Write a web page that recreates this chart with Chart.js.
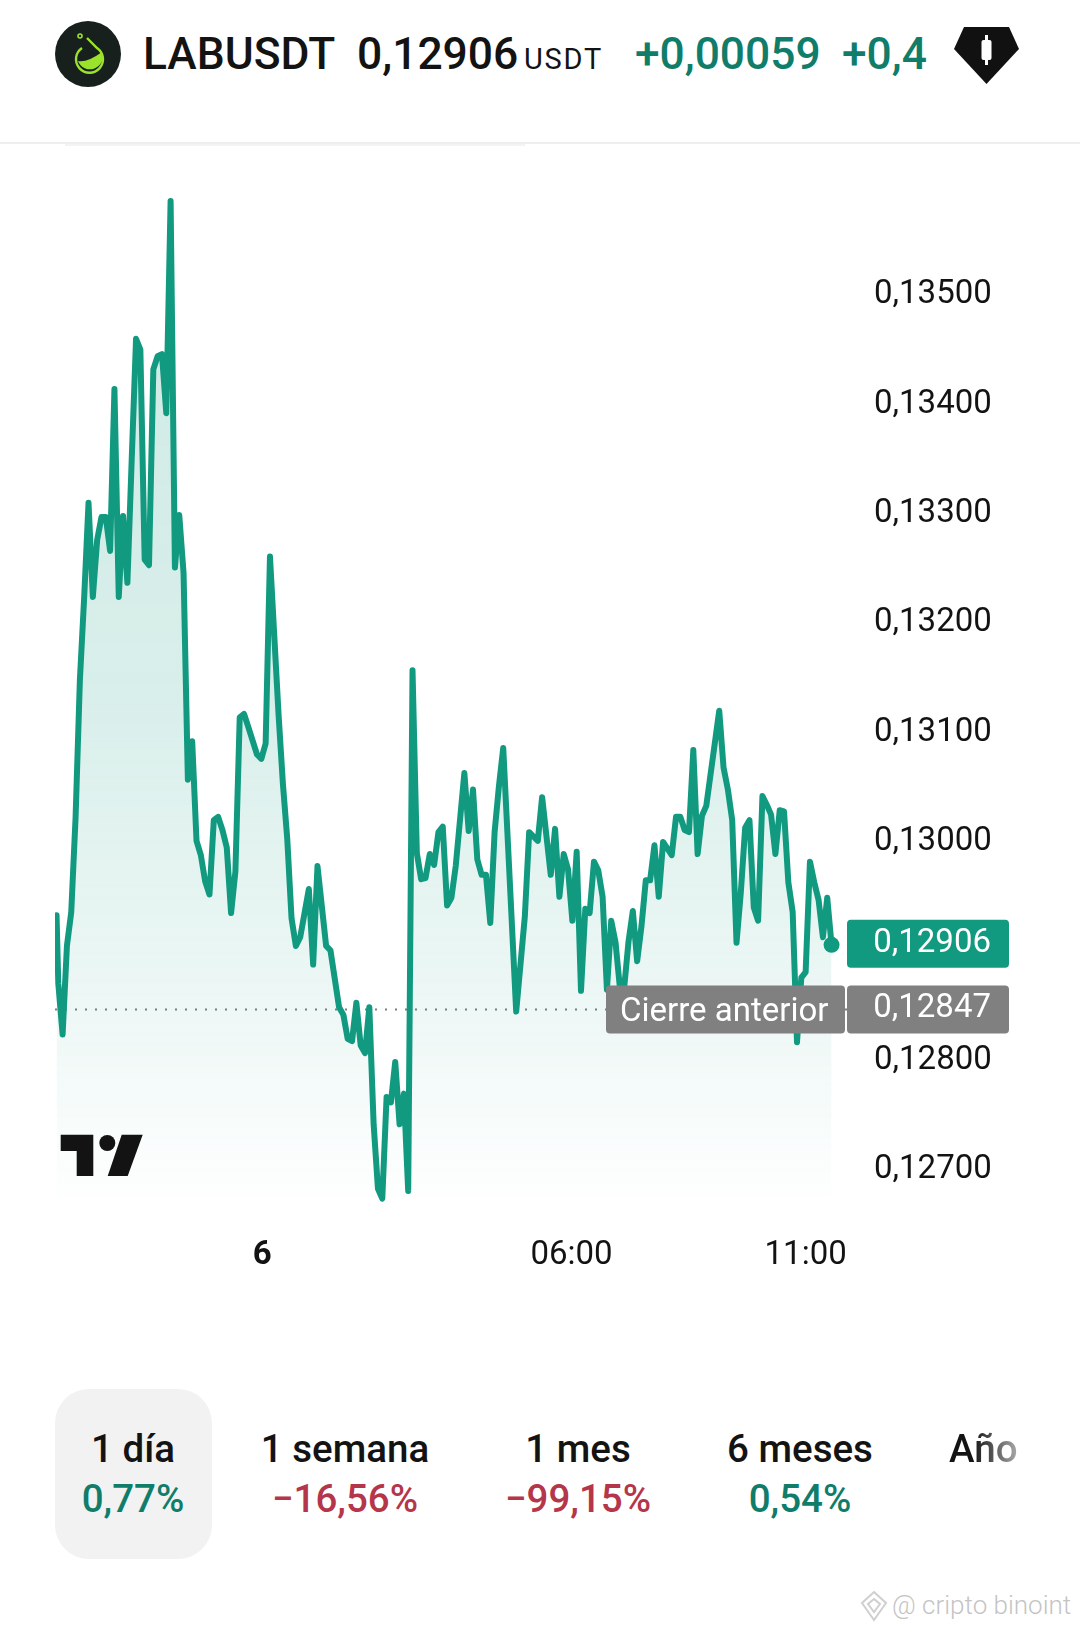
<!DOCTYPE html>
<html lang="es">
<head>
<meta charset="utf-8">
<title>LABUSDT</title>
<script src="https://cdn.jsdelivr.net/npm/chart.js@4/dist/chart.umd.min.js"></script>
<style>
  html, body { margin: 0; background: #fff; }
  body { position: relative; width: 1080px; height: 1630px; overflow: hidden; font-family: Roboto, sans-serif; color: #131313; }
  .abs { position: absolute; white-space: nowrap; }
  #chart { position: absolute; left: 0; top: 0; }
  .head { font-size: 44.3px; font-weight: 500; line-height: 50px; top: 29px; }
  .up { color: #107c6a; }
  .down { color: #b5364a; }
  .tab { position: absolute; top: 1424px; width: 240px; text-align: center; font-size: 38.5px; font-weight: 500; line-height: 50px; }
</style>
</head>
<body>

<!-- header ------------------------------------------------------- -->
<svg class="abs" style="left:55px;top:21px" width="66" height="66" viewBox="0 0 66 66">
  <circle cx="33" cy="33" r="33" fill="#17201c"/>
  <path d="M27 27 A13.5 13.5 0 1 0 42 27 L32 17" fill="none" stroke="#9be22d" stroke-width="2.4"/>
  <path d="M23 40 Q32 42 47 31 A12 12 0 0 1 23 40 Z" fill="#9be22d"/>
  <circle cx="25" cy="15" r="2" fill="none" stroke="#9be22d" stroke-width="1.6"/>
</svg>
<div class="abs head" style="left:143px">LABUSDT</div>
<div class="abs head" style="left:357px;font-size:44.4px">0,12906</div>
<div class="abs" style="left:524px;top:41px;font-size:29px;line-height:36px;letter-spacing:1.8px">USDT</div>
<div class="abs head up" style="left:635px">+0,00059</div>
<div class="abs head up" style="left:842px">+0,4</div>
<svg class="abs" style="left:954px;top:27px" width="65" height="57" viewBox="0 0 65 57">
  <path d="M10 0 H55 L65 22 L32.5 57 L0 22 Z" fill="#111"/>
  <rect x="27.5" y="13" width="10" height="20" rx="2" fill="#fff"/>
  <rect x="31" y="8" width="3" height="30" fill="#fff"/>
</svg>
<div class="abs" style="left:0;top:142px;width:1080px;height:2px;background:#eee"></div>
<div class="abs" style="left:65px;top:144px;width:460px;height:2px;background:#f3f3f3"></div>

<canvas id="chart" width="1080" height="1300"></canvas>

<!-- TradingView mark --------------------------------------------- -->
<svg class="abs" style="left:60px;top:1134px" width="84" height="43" viewBox="0 0 84 43">
  <path d="M0.7 0.7 H33.3 V42 H16.7 V17 H0.7 Z" fill="#131313"/>
  <circle cx="47.3" cy="9" r="8" fill="#131313"/>
  <path d="M61.7 0.7 H82.7 L67.7 42 H47.7 Z" fill="#131313"/>
</svg>

<!-- period tabs -------------------------------------------------- -->
<div class="abs" style="left:55px;top:1389px;width:157px;height:170px;border-radius:34px;background:#f2f2f2"></div>
<div class="tab" style="left:13px"><div>1 día</div><div class="up">0,77%</div></div>
<div class="tab" style="left:225px"><div>1 semana</div><div class="down">−16,56%</div></div>
<div class="tab" style="left:458px"><div>1 mes</div><div class="down">−99,15%</div></div>
<div class="tab" style="left:680px"><div>6 meses</div><div class="up">0,54%</div></div>
<div class="abs" style="left:949px;top:1424px;font-size:38.5px;font-weight:500;line-height:50px;background:linear-gradient(90deg,#131313 35%,#a8a8a8 100%);-webkit-background-clip:text;background-clip:text;color:transparent">Año</div>

<!-- watermark ---------------------------------------------------- -->
<svg class="abs" style="left:860px;top:1590px" width="28" height="32" viewBox="0 0 28 32">
  <path d="M14 2 L26 13 L14 30 L2 13 Z M14 9 L20 14 L14 22 L8 14 Z" fill="none" stroke="#cfcfcf" stroke-width="2"/>
</svg>
<div class="abs" style="left:892px;top:1588px;font-size:26px;line-height:34px;color:#c4c4c4;font-weight:300;letter-spacing:0">@ cripto binoint</div>

<script>
/* data: 5-minute bars ---------------------------------------------- */
const bars = [
  0.6, 1, 2, 3, 4, 5, 6, 7, 8, 9,
  10, 11, 12, 13, 14, 15, 16, 17, 18, 19,
  20, 21, 22, 23, 24, 25, 26, 27, 28, 29,
  30, 31, 32, 33, 34, 35, 36, 37, 38, 39,
  40, 41, 42, 43, 44, 45, 47, 48, 49, 50,
  52, 53, 54, 55, 56, 57, 59, 60, 61, 63,
  64, 66, 67, 68, 69, 70, 71, 72, 73, 74,
  75, 76, 77, 78, 79, 80, 81, 82, 83, 84,
  85, 86, 87, 88, 89, 90, 91, 92, 93, 95,
  96, 97, 98, 99, 100, 101, 102, 103, 104, 107,
  109, 110, 112, 113, 115, 116, 117, 118, 119, 120,
  121, 122, 123, 124, 125, 126, 127, 128, 129, 130,
  131, 132, 133, 134, 135, 136, 137, 138, 139, 140,
  141, 143, 144, 145, 146, 147, 148, 149, 150, 151,
  154, 155, 156, 157, 158, 159, 160, 161, 162, 163,
  164, 165, 166, 167, 168, 169, 170, 171, 172, 173,
  174, 175, 176, 177, 178, 179, 180
];
const prices = [
  0.12933, 0.12871, 0.12824, 0.12905, 0.12936, 0.13022, 0.13148, 0.13224, 0.13310, 0.13224,
  0.13276, 0.13297, 0.13297, 0.13266, 0.13414, 0.13224, 0.13298, 0.13237, 0.13350, 0.13460,
  0.13450, 0.13258, 0.13253, 0.13432, 0.13444, 0.13446, 0.13392, 0.13586, 0.13251, 0.13299,
  0.13246, 0.13057, 0.13092, 0.13001, 0.12988, 0.12964, 0.12952, 0.13020, 0.13023, 0.13011,
  0.12995, 0.12935, 0.12973, 0.13114, 0.13117, 0.13105, 0.13080, 0.13076, 0.13090, 0.13261,
  0.13116, 0.13053, 0.13003, 0.12930, 0.12905, 0.12913, 0.12957, 0.12888, 0.12978, 0.12905,
  0.12901, 0.12849, 0.12842, 0.12820, 0.12818, 0.12853, 0.12814, 0.12807, 0.12849, 0.12742,
  0.12683, 0.12674, 0.12767, 0.12762, 0.12799, 0.12742, 0.12770, 0.12681, 0.13157, 0.12990,
  0.12966, 0.12967, 0.12989, 0.12979, 0.13009, 0.13014, 0.12942, 0.12949, 0.12978, 0.13063,
  0.13010, 0.13048, 0.12984, 0.12970, 0.12970, 0.12926, 0.13009, 0.13051, 0.13086, 0.12845,
  0.12932, 0.13009, 0.13001, 0.13041, 0.12970, 0.13012, 0.12950, 0.12989, 0.12975, 0.12928,
  0.12991, 0.12864, 0.12939, 0.12935, 0.12982, 0.12974, 0.12950, 0.12865, 0.12928, 0.12908,
  0.12867, 0.12867, 0.12909, 0.12937, 0.12891, 0.12923, 0.12965, 0.12965, 0.12997, 0.12950,
  0.13000, 0.12988, 0.13023, 0.13023, 0.13011, 0.13009, 0.13084, 0.12989, 0.13024, 0.13033,
  0.13120, 0.13068, 0.13048, 0.13020, 0.12908, 0.12954, 0.13013, 0.13020, 0.12940, 0.12928,
  0.13042, 0.13034, 0.13025, 0.12989, 0.13029, 0.13028, 0.12963, 0.12936, 0.12817, 0.12876,
  0.12881, 0.12982, 0.12963, 0.12947, 0.12913, 0.12949, 0.12906
];

const priceTicks = [0.135, 0.134, 0.133, 0.132, 0.131, 0.130, 0.128, 0.127];
const priceTickLabels = ['0,13500', '0,13400', '0,13300', '0,13200', '0,13100', '0,13000', '0,12800', '0,12700'];
const timeTicks = [48.2, 119.8, 174];
const timeTickLabels = ['6', '06:00', '11:00'];

const lastPrice = 0.12906, lastTag = '0,12906';
const prevClose = 0.12847, prevTag = '0,12847', prevName = 'Cierre anterior';

const X_MIN = 0.24, X_MAX = 184.27;
const Y_MIN = 0.1265905, Y_MAX = 0.1363254;
const TEAL = '#129a80', GREY = '#808080';

/* price tags on the right ------------------------------------------ */
const priceTags = {
  id: 'priceTags',
  afterDatasetsDraw(chart) {
    const { ctx, scales: { y } } = chart;
    const box = (x, w, cy, fill) => {
      ctx.fillStyle = fill;
      ctx.beginPath();
      ctx.roundRect(x, cy - 24, w, 48, 4);
      ctx.fill();
    };
    const yLast = y.getPixelForValue(lastPrice);
    const yPrev = y.getPixelForValue(prevClose);
    ctx.save();
    box(847, 162, yLast - 1, TEAL);
    box(606, 239, yPrev, GREY);
    box(847, 162, yPrev, GREY);
    ctx.font = '33px Roboto';
    ctx.fillStyle = '#fff';
    ctx.textBaseline = 'middle';
    ctx.textAlign = 'right';
    ctx.fillText(lastTag, 991, yLast - 1);
    ctx.fillText(prevTag, 991, yPrev - 1);
    ctx.textAlign = 'left';
    ctx.fillText(prevName, 620, yPrev + 3);
    ctx.restore();
  }
};

/* chart ------------------------------------------------------------ */
new Chart(document.getElementById('chart'), {
  type: 'line',
  data: {
    datasets: [
      {
        data: bars.map((b, i) => ({ x: b, y: prices[i] })),
        borderColor: TEAL,
        borderWidth: 6,
        borderJoinStyle: 'round',
        borderCapStyle: 'round',
        tension: 0,
        fill: 'start',
        backgroundColor(c) {
          const area = c.chart.chartArea;
          if (!area) return 'transparent';
          const g = c.chart.ctx.createLinearGradient(0, 190, 0, 1215);
          g.addColorStop(0, 'rgba(18,154,128,0.21)');
          g.addColorStop(0.5, 'rgba(18,154,128,0.16)');
          g.addColorStop(0.82, 'rgba(18,154,128,0.065)');
          g.addColorStop(0.93, 'rgba(18,154,128,0.025)');
          g.addColorStop(1, 'rgba(18,154,128,0)');
          return g;
        },
        pointRadius: c => (c.dataIndex === bars.length - 1 ? 8 : 0),
        pointBackgroundColor: TEAL,
        pointBorderWidth: 0,
        order: 1
      },
      {
        data: [{ x: X_MIN, y: prevClose }, { x: X_MAX, y: prevClose }],
        borderColor: '#7d7d7d',
        borderWidth: 2,
        borderDash: [2, 8],
        pointRadius: 0,
        fill: false,
        order: 2
      }
    ]
  },
  options: {
    responsive: false,
    animation: false,
    events: [],
    layout: { padding: { left: 55, top: 150, right: 0, bottom: 0 } },
    plugins: { legend: { display: false }, tooltip: { enabled: false } },
    scales: {
      x: {
        type: 'linear',
        min: X_MIN,
        max: X_MAX,
        grid: { display: false },
        border: { display: false },
        afterBuildTicks(s) { s.ticks = timeTicks.map(value => ({ value })); },
        afterFit(s) { s.height = 85; },
        ticks: {
          autoSkip: false,
          maxRotation: 0,
          padding: 13,
          color: '#131313',
          font: c => (c.index === 0
            ? { family: 'Roboto', size: 33, weight: '700' }
            : { family: 'Roboto', size: 33 }),
          callback: (v, i) => timeTickLabels[i]
        }
      },
      y: {
        position: 'right',
        min: Y_MIN,
        max: Y_MAX,
        grid: { display: false },
        border: { display: false },
        afterBuildTicks(s) { s.ticks = priceTicks.map(value => ({ value })); },
        afterFit(s) { s.width = 230; },
        ticks: {
          autoSkip: false,
          padding: 16,
          color: '#131313',
          font: { family: 'Roboto', size: 33 },
          callback: (v, i) => priceTickLabels[i]
        }
      }
    }
  },
  plugins: [priceTags]
});
</script>
</body>
</html>
